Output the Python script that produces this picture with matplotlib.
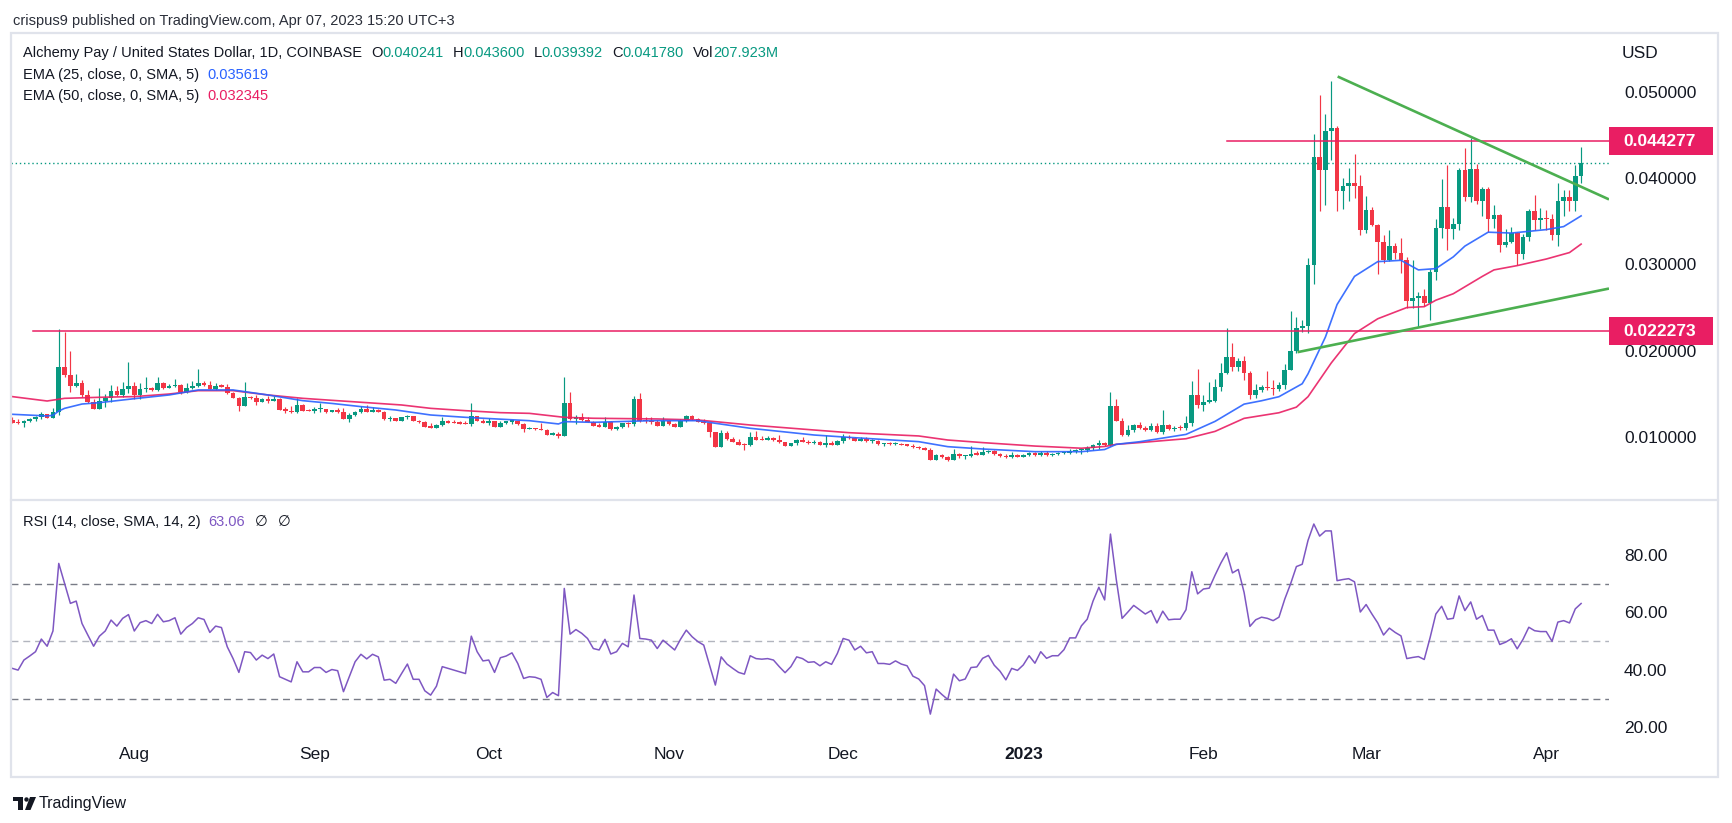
import numpy as np
import pandas as pd
import matplotlib
matplotlib.use("Agg")
import matplotlib.pyplot as plt
import matplotlib.transforms as mtransforms
from matplotlib.patches import Rectangle, Polygon, Circle
from matplotlib.lines import Line2D

plt.rcParams['font.family'] = ['Liberation Sans', 'DejaVu Sans']

# ------------------------------------------------------------------ data
start_date = "2022-07-11"
first_open = 0.01197

close = [
    0.01166, 0.01158, 0.01186, 0.01205, 0.01228, 0.01267, 0.01224, 0.01286, 0.01815, 0.01719,
    0.01595, 0.01626, 0.01487, 0.01406, 0.01328, 0.01417, 0.01448, 0.01533, 0.01487, 0.01552,
    0.01591, 0.01487, 0.01552, 0.01564, 0.01545, 0.01622, 0.01572, 0.01591, 0.01599, 0.01525,
    0.01564, 0.01591, 0.01622, 0.01607, 0.01560, 0.01591, 0.01583, 0.01506, 0.01456, 0.01359,
    0.01460, 0.01448, 0.01410, 0.01440, 0.01417, 0.01440, 0.01317, 0.01305, 0.01286, 0.01367,
    0.01305, 0.01301, 0.01321, 0.01325, 0.01294, 0.01309, 0.01294, 0.01205, 0.01251, 0.01290,
    0.01321, 0.01294, 0.01313, 0.01294, 0.01205, 0.01220, 0.01189, 0.01228, 0.01247, 0.01185,
    0.01174, 0.01120, 0.01108, 0.01135, 0.01185, 0.01166, 0.01160, 0.01156, 0.01152, 0.01244,
    0.01185, 0.01166, 0.01182, 0.01120, 0.01166, 0.01178, 0.01180, 0.01147, 0.01089, 0.01104,
    0.01089, 0.01081, 0.01027, 0.01039, 0.01012, 0.01390, 0.01205, 0.01236, 0.01197, 0.01178,
    0.01127, 0.01120, 0.01178, 0.01093, 0.01120, 0.01158, 0.01147, 0.01440, 0.01185, 0.01180,
    0.01176, 0.01131, 0.01189, 0.01147, 0.01120, 0.01189, 0.01244, 0.01205, 0.01174, 0.01158,
    0.01054, 0.00888, 0.01043, 0.00977, 0.00946, 0.00911, 0.00904, 0.01004, 0.00969, 0.00963,
    0.00992, 0.00965, 0.00938, 0.00900, 0.00927, 0.00965, 0.00946, 0.00927, 0.00942, 0.00911,
    0.00927, 0.00911, 0.00958, 0.01004, 0.00988, 0.00958, 0.00981, 0.00950, 0.00958, 0.00919,
    0.00923, 0.00915, 0.00919, 0.00908, 0.00900, 0.00880, 0.00869, 0.00854, 0.00737, 0.00792,
    0.00765, 0.00737, 0.00803, 0.00776, 0.00780, 0.00807, 0.00796, 0.00829, 0.00839, 0.00804,
    0.00784, 0.00764, 0.00789, 0.00774, 0.00789, 0.00814, 0.00789, 0.00819, 0.00794, 0.00804,
    0.00809, 0.00819, 0.00834, 0.00844, 0.00855, 0.00875, 0.00905, 0.00930, 0.00910, 0.01356,
    0.01191, 0.01025, 0.01080, 0.01135, 0.01105, 0.01085, 0.01125, 0.01055, 0.01140, 0.01090,
    0.01110, 0.01100, 0.01166, 0.01481, 0.01371, 0.01411, 0.01416, 0.01577, 0.01737, 0.01923,
    0.01813, 0.01883, 0.01747, 0.01481, 0.01547, 0.01582, 0.01567, 0.01557, 0.01597, 0.01782,
    0.01998, 0.02259, 0.02289, 0.02996, 0.04240, 0.04090, 0.04541, 0.04576, 0.03849, 0.03914,
    0.03944, 0.03914, 0.03398, 0.03633, 0.03453, 0.03262, 0.03047, 0.03217, 0.03127, 0.03052,
    0.02570, 0.02615, 0.02630, 0.02550, 0.02916, 0.03423, 0.03669, 0.03413, 0.03463, 0.04095,
    0.03779, 0.04105, 0.03734, 0.03879, 0.03523, 0.03578, 0.03222, 0.03262, 0.03363, 0.03117,
    0.03312, 0.03613, 0.03513, 0.03543, 0.03523, 0.03337, 0.03739, 0.03779, 0.03739, 0.04025,
    0.04178,
]

high = [
    0.01236, 0.01209, 0.01197, 0.01217, 0.01244, 0.01294, 0.01263, 0.01332, 0.02248, 0.02221,
    0.01997, 0.01730, 0.01661, 0.01545, 0.01437, 0.01564, 0.01495, 0.01603, 0.01595, 0.01637,
    0.01869, 0.01637, 0.01622, 0.01695, 0.01576, 0.01695, 0.01637, 0.01614, 0.01672, 0.01618,
    0.01626, 0.01649, 0.01788, 0.01645, 0.01645, 0.01626, 0.01614, 0.01614, 0.01522, 0.01468,
    0.01637, 0.01475, 0.01483, 0.01448, 0.01471, 0.01471, 0.01448, 0.01344, 0.01359, 0.01448,
    0.01379, 0.01321, 0.01352, 0.01390, 0.01328, 0.01317, 0.01332, 0.01340, 0.01274, 0.01298,
    0.01359, 0.01367, 0.01352, 0.01328, 0.01305, 0.01244, 0.01220, 0.01236, 0.01255, 0.01247,
    0.01197, 0.01182, 0.01158, 0.01151, 0.01236, 0.01197, 0.01197, 0.01182, 0.01189, 0.01394,
    0.01247, 0.01213, 0.01220, 0.01178, 0.01182, 0.01189, 0.01189, 0.01189, 0.01158, 0.01116,
    0.01108, 0.01166, 0.01097, 0.01058, 0.01054, 0.01695, 0.01522, 0.01259, 0.01274, 0.01228,
    0.01185, 0.01158, 0.01236, 0.01182, 0.01127, 0.01166, 0.01178, 0.01471, 0.01506, 0.01236,
    0.01236, 0.01197, 0.01228, 0.01197, 0.01166, 0.01213, 0.01251, 0.01259, 0.01220, 0.01205,
    0.01166, 0.01062, 0.01081, 0.01066, 0.01004, 0.00973, 0.00927, 0.01058, 0.01070, 0.01012,
    0.01012, 0.00996, 0.01023, 0.00946, 0.00935, 0.00973, 0.01004, 0.00965, 0.00965, 0.00958,
    0.01027, 0.00958, 0.00965, 0.01035, 0.01023, 0.01004, 0.00996, 0.01004, 0.00973, 0.00965,
    0.00935, 0.00942, 0.00942, 0.00931, 0.00923, 0.00923, 0.00896, 0.00880, 0.00869, 0.00807,
    0.00803, 0.00780, 0.00857, 0.00811, 0.00788, 0.00896, 0.00842, 0.00880, 0.00855, 0.00850,
    0.00820, 0.00804, 0.00829, 0.00804, 0.00804, 0.00829, 0.00829, 0.00839, 0.00834, 0.00814,
    0.00824, 0.00829, 0.00865, 0.00865, 0.00875, 0.00890, 0.00915, 0.00965, 0.00945, 0.01517,
    0.01446, 0.01216, 0.01140, 0.01156, 0.01171, 0.01130, 0.01166, 0.01166, 0.01316, 0.01151,
    0.01130, 0.01140, 0.01246, 0.01647, 0.01793, 0.01481, 0.01637, 0.01672, 0.01858, 0.02259,
    0.02093, 0.01918, 0.01933, 0.01767, 0.01617, 0.01607, 0.01767, 0.01657, 0.01632, 0.01843,
    0.02460, 0.02385, 0.02359, 0.03077, 0.04506, 0.04958, 0.04742, 0.05128, 0.04607, 0.04005,
    0.04115, 0.04276, 0.04040, 0.03789, 0.03664, 0.03463, 0.03337, 0.03393, 0.03252, 0.03302,
    0.03087, 0.03047, 0.02675, 0.02711, 0.02946, 0.03523, 0.03990, 0.04150, 0.03538, 0.04115,
    0.04351, 0.04466, 0.04165, 0.03899, 0.03899, 0.03689, 0.03588, 0.03413, 0.03433, 0.03373,
    0.03353, 0.03638, 0.03804, 0.03654, 0.03633, 0.03588, 0.03939, 0.03864, 0.03864, 0.04150,
    0.04360,
]

low = [
    0.01158, 0.01151, 0.01120, 0.01170, 0.01189, 0.01213, 0.01217, 0.01217, 0.01255, 0.01691,
    0.01525, 0.01576, 0.01460, 0.01390, 0.01321, 0.01321, 0.01352, 0.01410, 0.01475, 0.01468,
    0.01514, 0.01440, 0.01440, 0.01525, 0.01533, 0.01537, 0.01560, 0.01568, 0.01576, 0.01498,
    0.01514, 0.01552, 0.01576, 0.01595, 0.01552, 0.01545, 0.01576, 0.01495, 0.01448, 0.01301,
    0.01367, 0.01440, 0.01371, 0.01402, 0.01398, 0.01417, 0.01313, 0.01282, 0.01278, 0.01274,
    0.01301, 0.01298, 0.01282, 0.01286, 0.01274, 0.01290, 0.01274, 0.01205, 0.01178, 0.01240,
    0.01274, 0.01290, 0.01290, 0.01286, 0.01201, 0.01189, 0.01185, 0.01185, 0.01209, 0.01182,
    0.01166, 0.01116, 0.01104, 0.01104, 0.01127, 0.01162, 0.01158, 0.01152, 0.01147, 0.01127,
    0.01182, 0.01158, 0.01143, 0.01116, 0.01116, 0.01151, 0.01147, 0.01139, 0.01062, 0.01093,
    0.01085, 0.01077, 0.01023, 0.01023, 0.00992, 0.01012, 0.01197, 0.01151, 0.01189, 0.01174,
    0.01124, 0.01112, 0.01112, 0.01085, 0.01085, 0.01108, 0.01120, 0.01127, 0.01178, 0.01158,
    0.01151, 0.01127, 0.01127, 0.01139, 0.01112, 0.01116, 0.01178, 0.01201, 0.01170, 0.01155,
    0.01004, 0.00884, 0.00884, 0.00969, 0.00942, 0.00908, 0.00849, 0.00896, 0.00965, 0.00960,
    0.00960, 0.00954, 0.00931, 0.00896, 0.00896, 0.00908, 0.00942, 0.00919, 0.00919, 0.00904,
    0.00884, 0.00904, 0.00904, 0.00927, 0.00973, 0.00954, 0.00954, 0.00942, 0.00935, 0.00911,
    0.00900, 0.00911, 0.00908, 0.00904, 0.00896, 0.00869, 0.00861, 0.00846, 0.00734, 0.00734,
    0.00757, 0.00722, 0.00730, 0.00761, 0.00749, 0.00769, 0.00788, 0.00794, 0.00814, 0.00794,
    0.00774, 0.00759, 0.00759, 0.00764, 0.00774, 0.00779, 0.00779, 0.00779, 0.00784, 0.00784,
    0.00794, 0.00799, 0.00804, 0.00814, 0.00804, 0.00829, 0.00844, 0.00865, 0.00900, 0.00895,
    0.01181, 0.01010, 0.01015, 0.01055, 0.01095, 0.01065, 0.01075, 0.01050, 0.01035, 0.01085,
    0.01070, 0.01085, 0.01085, 0.01130, 0.01341, 0.01296, 0.01396, 0.01401, 0.01532, 0.01727,
    0.01767, 0.01767, 0.01657, 0.01446, 0.01457, 0.01517, 0.01547, 0.01481, 0.01532, 0.01557,
    0.01772, 0.01973, 0.02219, 0.02209, 0.02771, 0.03613, 0.03689, 0.04215, 0.03613, 0.03638,
    0.03739, 0.03764, 0.03342, 0.03363, 0.03448, 0.02886, 0.03012, 0.03042, 0.03062, 0.02901,
    0.02500, 0.02500, 0.02269, 0.02520, 0.02359, 0.02821, 0.03302, 0.03162, 0.03297, 0.03403,
    0.03739, 0.03724, 0.03704, 0.03563, 0.03373, 0.03423, 0.03147, 0.03202, 0.03247, 0.02996,
    0.03062, 0.03272, 0.03398, 0.03413, 0.03403, 0.03287, 0.03212, 0.03563, 0.03613, 0.03623,
    0.03939,
]

rsi = [
    40.5, 39.9, 43.4, 44.8, 46.3, 50.7, 48.2, 53.5, 77.0, 70.0,
    63.1, 63.9, 56.1, 52.1, 48.2, 51.7, 53.5, 57.3, 55.2, 57.9,
    59.2, 53.5, 56.4, 57.1, 56.1, 59.3, 56.7, 57.1, 58.1, 52.4,
    54.7, 56.1, 58.1, 57.5, 53.0, 55.2, 54.7, 48.0, 43.9, 39.1,
    46.3, 46.0, 43.4, 45.1, 43.9, 45.5, 37.6, 36.7, 35.8, 42.8,
    39.3, 39.3, 40.8, 40.8, 39.1, 40.1, 39.7, 32.4, 37.6, 42.8,
    45.4, 43.8, 45.4, 44.5, 36.4, 36.7, 35.3, 38.7, 42.0, 36.7,
    36.7, 32.7, 31.2, 34.3, 41.1, 40.5, 39.9, 39.3, 38.7, 51.7,
    46.3, 43.1, 43.4, 39.1, 44.2, 44.8, 45.9, 42.2, 37.0, 37.6,
    37.4, 36.7, 30.4, 32.1, 31.0, 68.3, 52.4, 54.0, 52.7, 50.9,
    47.4, 46.9, 50.6, 45.5, 46.3, 49.2, 48.0, 66.0, 50.9, 50.7,
    50.3, 47.4, 50.3, 48.6, 46.9, 50.6, 53.8, 51.5, 49.8, 48.6,
    41.6, 34.7, 44.5, 42.0, 40.5, 39.1, 38.5, 44.9, 43.9, 43.7,
    43.9, 43.4, 41.1, 39.0, 41.1, 44.5, 43.9, 42.6, 42.8, 41.4,
    42.8, 41.9, 45.7, 50.9, 50.3, 46.9, 48.2, 45.9, 46.3, 42.2,
    42.2, 41.9, 43.1, 42.0, 41.4, 37.8, 36.8, 34.5, 24.6, 33.3,
    31.4, 29.7, 38.5, 36.2, 36.8, 40.8, 41.0, 44.0, 45.0, 41.6,
    39.5, 36.5, 40.5, 39.8, 41.7, 44.9, 42.3, 46.3, 44.0, 44.9,
    44.9, 47.0, 51.1, 51.1, 55.3, 57.6, 63.9, 68.7, 64.3, 87.2,
    71.4, 57.9, 60.1, 62.4, 60.9, 59.4, 60.6, 56.3, 60.4, 57.4,
    57.6, 57.6, 60.9, 74.1, 66.4, 68.1, 68.4, 72.9, 77.1, 80.7,
    73.7, 74.9, 66.9, 55.1, 57.4, 58.3, 57.9, 57.1, 58.3, 64.6,
    69.9, 75.9, 76.7, 85.0, 90.7, 86.5, 88.3, 88.3, 71.0, 71.4,
    71.7, 70.6, 60.1, 62.7, 59.4, 56.3, 52.1, 54.5, 53.0, 51.8,
    43.9, 44.3, 44.6, 43.6, 51.1, 59.4, 62.1, 57.6, 57.9, 65.7,
    60.6, 63.6, 57.6, 58.9, 53.8, 53.8, 48.8, 49.6, 50.8, 47.3,
    50.6, 54.8, 53.6, 53.3, 53.3, 49.9, 56.6, 57.1, 56.3, 61.2,
    63.06,
]

ema25_idx = [0, 6, 7, 8, 9, 12, 15, 21, 27, 32, 38, 44, 50, 55, 60, 66, 72, 78, 89, 94,
             95, 100, 110, 118, 121, 127, 138, 144, 156, 161, 167, 176, 184, 188, 190, 194,
             202, 207, 212, 215, 218, 222, 223, 226, 228, 231, 235, 239, 242, 245, 248, 250,
             254, 258, 264, 267, 270]
ema25_val = [0.01263, 0.01244, 0.01251, 0.01301, 0.01332, 0.01382, 0.01398, 0.01444, 0.01487,
             0.01545, 0.01545, 0.01487, 0.01421, 0.01389, 0.01352, 0.01313, 0.01255, 0.01228,
             0.01189, 0.01151, 0.01178, 0.01170, 0.01189, 0.01189, 0.01159, 0.01101, 0.01023,
             0.00996, 0.00946, 0.00888, 0.00861, 0.00830, 0.00830, 0.00855, 0.00915, 0.00945,
             0.01030, 0.01181, 0.01381, 0.01420, 0.01467, 0.01617, 0.01732, 0.02159, 0.02535,
             0.02861, 0.03032, 0.03047, 0.02936, 0.02951, 0.03087, 0.03212, 0.03373, 0.03363,
             0.03403, 0.03438, 0.03562]

ema50_idx = [0, 6, 9, 15, 21, 27, 32, 38, 44, 50, 55, 61, 67, 72, 78, 84, 89, 95, 100, 111,
             118, 121, 127, 138, 144, 156, 161, 167, 176, 184, 188, 190, 194, 202, 207, 212,
             218, 221, 223, 227, 231, 235, 240, 243, 245, 248, 253, 255, 259, 264, 268, 270]
ema50_val = [0.01468, 0.01417, 0.01448, 0.01460, 0.01468, 0.01498, 0.01537, 0.01537, 0.01487,
             0.01448, 0.01425, 0.01398, 0.01371, 0.01332, 0.01305, 0.01282, 0.01274, 0.01228,
             0.01217, 0.01209, 0.01197, 0.01178, 0.01139, 0.01081, 0.01050, 0.01012, 0.00965,
             0.00935, 0.00895, 0.00870, 0.00890, 0.00915, 0.00935, 0.00980, 0.01065, 0.01216,
             0.01281, 0.01346, 0.01467, 0.01858, 0.02199, 0.02370, 0.02500, 0.02510, 0.02585,
             0.02660, 0.02861, 0.02936, 0.02986, 0.03062, 0.03137, 0.03235]

resistance = 0.044277
support = 0.022273
resistance_from = 209.1
support_from = 3.6
upper_trend_x = [228.1, 274.8]
upper_trend_y = [0.05177, 0.03753]
lower_trend_x = [221.2, 274.8]
lower_trend_y = [0.01983, 0.02720]

price_ticks = [0.01, 0.02, 0.03, 0.04, 0.05]
rsi_ticks = [20, 40, 60, 80]
rsi_levels = [70, 50, 30]
month_starts = ["2022-08-01", "2022-09-01", "2022-10-01", "2022-11-01", "2022-12-01",
                "2023-01-01", "2023-02-01", "2023-03-01", "2023-04-01"]
month_labels = ["Aug", "Sep", "Oct", "Nov", "Dec", "2023", "Feb", "Mar", "Apr"]

legend_values = ["0.040241", "0.043600", "0.039392", "0.041780", "207.923M"]
ema25_last = "0.035619"
ema50_last = "0.032345"
rsi_last = "63.06"

# ------------------------------------------------------------------ style
GREEN = "#089981"
RED = "#F23645"
PINK = "#E91E63"
BLUE = "#2962FF"
PURPLE = "#7E57C2"
TREND = "#4CAF50"
TXT = "#131722"
FRAME = "#E0E3EB"

W, H = 1732, 823
fig = plt.figure(figsize=(W / 100, H / 100), dpi=100)
fig.patch.set_facecolor("white")
PX = mtransforms.Affine2D().scale(1 / W, -1 / H).translate(0, 1) + fig.transFigure


def rect(x0, y0, x1, y1):
    return [x0 / W, 1 - y1 / H, (x1 - x0) / W, (y1 - y0) / H]


ax = fig.add_axes(rect(11, 33, 1609, 500))
ax2 = fig.add_axes(rect(11, 500, 1609, 742), sharex=ax)
for a in (ax, ax2):
    for s in a.spines.values():
        s.set_visible(False)
    a.set_facecolor("white")

dates = pd.date_range(start_date, periods=len(close), freq="D")
x = np.arange(len(close))
c = np.array(close)
o = np.concatenate([[first_open], c[:-1]])
hi = np.maximum(np.array(high), np.maximum(o, c))
lo = np.minimum(np.array(low), np.minimum(o, c))
up = c >= o
cols = np.where(up, GREEN, RED)

ymin, ymax = 0.00270, 0.05681
ax.set_xlim(-0.22, 274.8)
ax.set_ylim(ymin, ymax)
minh = (ymax - ymin) / 467 * 1.2

ax.vlines(x, lo, hi, colors=cols, lw=0.85, zorder=2)
ax.bar(x, np.maximum(np.abs(c - o), minh), 0.8, np.minimum(o, c), color=cols,
       edgecolor="none", linewidth=0, zorder=3)

ax.plot(ema50_idx, ema50_val, color=PINK, lw=1.2, alpha=0.9, zorder=4)
ax.plot(ema25_idx, ema25_val, color=BLUE, lw=1.2, alpha=0.9, zorder=4)

ax.plot([resistance_from, 274.8], [resistance, resistance], color=PINK, lw=1.1, zorder=5)
ax.plot([support_from, 274.8], [support, support], color=PINK, lw=1.1, zorder=5)
ax.plot(upper_trend_x, upper_trend_y, color=TREND, lw=1.9, zorder=5, solid_capstyle="butt")
ax.plot(lower_trend_x, lower_trend_y, color=TREND, lw=1.9, zorder=5, solid_capstyle="butt")
ax.axhline(close[-1], color=GREEN, lw=1.0, ls=(0, (1, 2)), zorder=1)

ax.yaxis.tick_right()
ax.set_yticks(price_ticks)
ax.set_yticklabels([f"{t:.6f}" for t in price_ticks])
ax.tick_params(axis="y", length=0, pad=10.8, labelsize=12.5, labelcolor=TXT)
ax.tick_params(axis="x", length=0, labelbottom=False)

# RSI pane
ax2.set_ylim(14.9, 99.05)
ax2.plot(x, rsi, color=PURPLE, lw=1.1, zorder=3)
for lv in rsi_levels:
    ax2.axhline(lv, color="#787B86" if lv != 50 else "#B2B5BE", lw=1.0,
                ls=(0, (5, 3.5)), zorder=1)
ax2.yaxis.tick_right()
ax2.set_yticks(rsi_ticks)
ax2.set_yticklabels([f"{t:.2f}" for t in rsi_ticks])
ax2.tick_params(axis="y", length=0, pad=10.8, labelsize=12.5, labelcolor=TXT)

pos = [int(np.where(dates == pd.Timestamp(d))[0][0]) for d in month_starts]
ax2.set_xticks(pos)
ax2.set_xticklabels(month_labels)
ax2.tick_params(axis="x", length=0, pad=3.5, labelsize=12.5, labelcolor=TXT)
for t in ax2.get_xticklabels():
    if t.get_text() == "2023":
        t.set_fontweight("bold")

# frame and separator
fig.add_artist(Rectangle((11, 33), 1707, 744, transform=PX, fill=False,
                         edgecolor=FRAME, lw=1.6, zorder=20))
fig.add_artist(Line2D([11, 1718], [500, 500], transform=PX, color=FRAME, lw=1.6, zorder=20))

# price label boxes
for p in (resistance, support):
    _, yd = ax.transData.transform((0, p))
    ytop = H - yd
    fig.add_artist(Rectangle((1609, ytop - 14), 104, 28, transform=PX,
                             facecolor=PINK, edgecolor="none", zorder=10))
    fig.text(1623 / W, yd / H, f"{p:.6f}", color="white", fontsize=12.5,
             fontweight="bold", va="center", ha="left", zorder=11)

fig.text(1622 / W, 1 - 53 / H, "USD", color=TXT, fontsize=12.5, va="center", ha="left")

# header texts
renderer = fig.canvas.get_renderer()


def row(x_px, y_px, pieces, size=10.5):
    xx = x_px
    for txt, col, gap in pieces:
        t = fig.text(xx / W, 1 - y_px / H, txt, color=col, fontsize=size,
                     va="center", ha="left", zorder=30)
        bb = t.get_window_extent(renderer=renderer)
        xx += bb.width + gap


row(13, 21, [("crispus9 published on TradingView.com, Apr 07, 2023 15:20 UTC+3", "#2A2E39", 0)])
row(23, 53, [("Alchemy Pay / United States Dollar, 1D, COINBASE", TXT, 9),
             ("O", TXT, 0), (legend_values[0], GREEN, 9),
             ("H", TXT, 0), (legend_values[1], GREEN, 9),
             ("L", TXT, 0), (legend_values[2], GREEN, 9),
             ("C", TXT, 0), (legend_values[3], GREEN, 9),
             ("Vol", TXT, 0), (legend_values[4], GREEN, 0)])
row(23, 75, [("EMA (25, close, 0, SMA, 5)", TXT, 8), (ema25_last, BLUE, 0)])
row(23, 96, [("EMA (50, close, 0, SMA, 5)", TXT, 8), (ema50_last, PINK, 0)])
row(23, 522, [("RSI (14, close, SMA, 14, 2)", TXT, 8), (rsi_last, PURPLE, 10),
              ("\u2205", TXT, 10), ("\u2205", TXT, 0)])

# TradingView logo
fig.add_artist(Polygon([(13, 797), (23, 797), (23, 810), (18, 810), (18, 801), (13, 801)],
                       closed=True, transform=PX, facecolor=TXT, edgecolor="none"))
fig.add_artist(Circle((26.5, 799.5), 2.2, transform=PX, facecolor=TXT, edgecolor="none"))
fig.add_artist(Polygon([(30, 797), (36, 797), (30.5, 810), (25, 810)],
                       closed=True, transform=PX, facecolor=TXT, edgecolor="none"))
fig.text(39 / W, 1 - 803.5 / H, "TradingView", color=TXT, fontsize=11.5,
         va="center", ha="left")

fig.savefig("out.png", dpi=100, facecolor="white")
